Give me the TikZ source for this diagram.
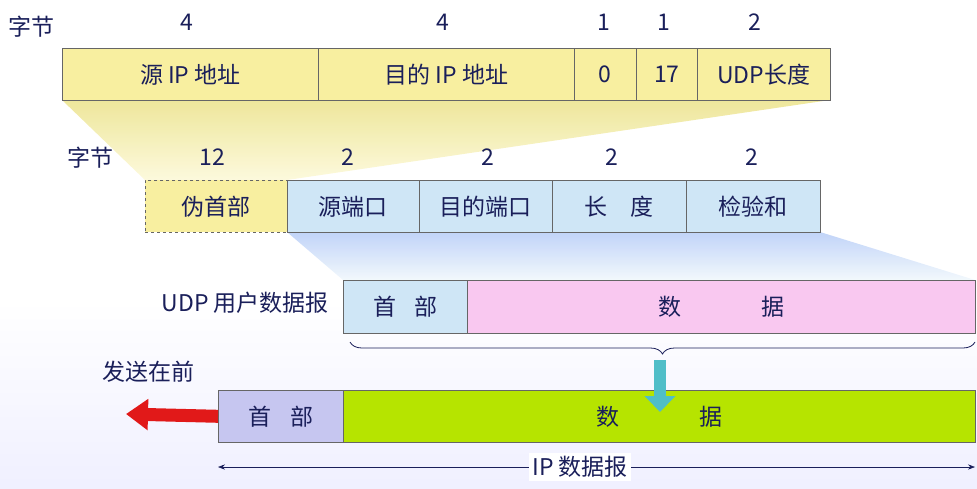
\documentclass[tikz,border=0pt]{standalone}
\usepackage{fontspec}
\setmainfont{Noto Sans CJK SC}
\usetikzlibrary{arrows.meta,decorations.pathreplacing,shapes.arrows}
\definecolor{txt}{HTML}{1A1F5A}
\definecolor{yel}{HTML}{F8EFA0}
\definecolor{blu}{HTML}{CFE6F6}
\definecolor{pnk}{HTML}{F9C8F0}
\definecolor{lav}{HTML}{C6C6F0}
\definecolor{grn}{HTML}{B6E400}
\begin{document}
\begin{tikzpicture}[x=1pt,y=-1pt,
  box/.style={draw=black!60,line width=0.6pt,anchor=north west,inner sep=0pt,text=txt,font=\fontsize{23}{23}\selectfont},
  lab/.style={text=txt,font=\fontsize{23}{23}\selectfont,inner sep=1pt}]
\useasboundingbox (0,0) rectangle (977,488);
\shade[top color=white,bottom color=blue!6] (0,300) rectangle (977,488);
% trapezoids
\shade[top color=yel!90!olive,bottom color=yel!40,opacity=0.9] (62,100) -- (830,100) -- (287,180) -- (145,180) -- cycle;
\shade[top color=blu!90!blue,bottom color=blu!30,opacity=0.9] (287,232) -- (820,232) -- (975,280) -- (343,280) -- cycle;
% row 1
\node[box,fill=yel,minimum width=256,minimum height=52] (a1) at (62,48) {源 IP 地址};
\node[box,fill=yel,minimum width=256,minimum height=52] (a2) at (318,48) {目的 IP 地址};
\node[box,fill=yel,minimum width=62,minimum height=52] (a3) at (574,48) {0};
\node[box,fill=yel,minimum width=61,minimum height=52] (a4) at (636,48) {17};
\node[box,fill=yel,minimum width=133,minimum height=52] (a5) at (697,48) {UDP长度};
\node[lab] (z1) at (32,27) {字节};
\node[lab] (n1) at (187,22) {4};
\node[lab] (n2) at (443,22) {4};
\node[lab] (n3) at (604,22) {1};
\node[lab] (n4) at (664,22) {1};
\node[lab] (n5) at (755,22) {2};
% row 2
\node[box,fill=yel,dashed,minimum width=142,minimum height=52] (b0) at (145,180) {伪首部};
\node[box,fill=blu,minimum width=132,minimum height=52] (b1) at (287,180) {源端口};
\node[box,fill=blu,minimum width=133,minimum height=52] (b2) at (419,180) {目的端口};
\node[box,fill=blu,minimum width=134,minimum height=52] (b3) at (552,180) {长\hspace{1em}度};
\node[box,fill=blu,minimum width=134,minimum height=52] (b4) at (686,180) {检验和};
\node[lab] (z2) at (90,158) {字节};
\node[lab] (m0) at (212,157) {12};
\node[lab] (m1) at (348,157) {2};
\node[lab] (m2) at (488,157) {2};
\node[lab] (m3) at (612,157) {2};
\node[lab] (m4) at (752,157) {2};
% UDP
\node[box,fill=blu,minimum width=124,minimum height=53] (u1) at (343,280) {首\hspace{0.8em}部};
\node[box,fill=pnk,minimum width=508,minimum height=53] (u2) at (467,280) {数\hspace{3.5em}据};
\node[lab,anchor=east] (ul) at (330,303) {UDP 用户数据报};
\draw[decorate,decoration={brace,amplitude=12pt,mirror},draw=txt,line width=0.8pt] (350,342) -- (975,342);
% IP
\node[box,fill=lav,minimum width=125,minimum height=52] (i1) at (218,390) {首\hspace{0.8em}部};
\node[box,fill=grn,minimum width=632,minimum height=52] (i2) at (343,390) {数\hspace{3.5em}据};
\coordinate (bt) at (660,360);
\coordinate (bb) at (660,412);
\draw[-{Triangle[width=30pt,length=16pt]},line width=12pt,draw={rgb,255:red,80;green,190;blue,200}] (bt) -- (bb);
\coordinate (ra) at (126,414);
\draw[-{Triangle[width=30pt,length=22pt]},line width=13pt,draw={rgb,255:red,225;green,25;blue,25}] (i1.west) -- (ra);
\node[lab] (sf) at (148,372) {发送在前};
\coordinate (l1) at (218,467);
\coordinate (l2) at (975,467);
\draw[{Stealth[length=7pt]}-{Stealth[length=7pt]},draw=txt,line width=0.6pt] (l1) -- (l2);
\node[lab,fill=white,inner sep=3pt] (ipl) at (580,467) {IP 数据报};
\end{tikzpicture}
\end{document}
